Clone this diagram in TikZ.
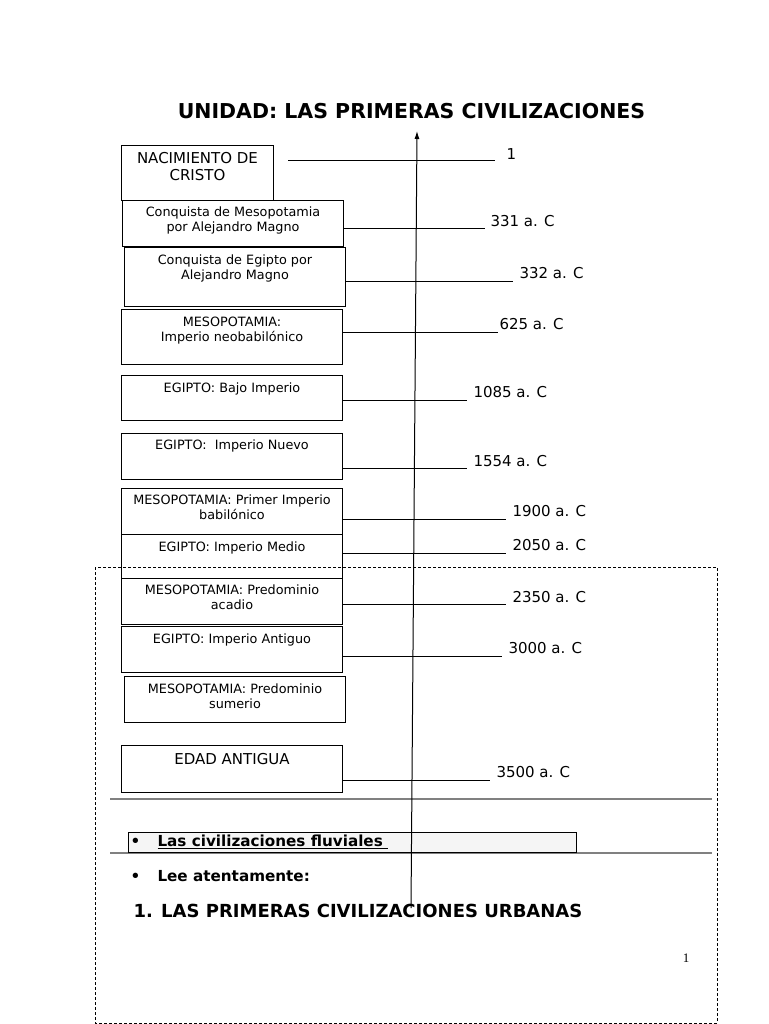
\documentclass[tikz,border=0pt]{standalone}
\usepackage{fontspec}
\setmainfont{DejaVu Sans}
\newfontfamily\pagefont{Liberation Serif}
\usepackage{tikz}
\usetikzlibrary{positioning,calc,arrows.meta}
\tikzset{>=stealth}
\tikzset{
  evbox/.style={draw,anchor=north west,inner sep=0pt},
  bigtxt/.style={anchor=north,inner sep=0pt,align=center,font=\fontsize{15}{17}\selectfont},
  smalltxt/.style={anchor=north,inner sep=0pt,align=center,font=\fontsize{12.8}{15}\selectfont},
  fecha/.style={anchor=base west,inner sep=0pt,font=\fontsize{15}{17}\selectfont},
  sepline/.style={draw=gray,line width=1.8pt},
  boldtxt/.style={anchor=base west,inner sep=0pt,font=\fontsize{15.2}{17}\selectfont\bfseries}
}

\begin{document}
\begin{tikzpicture}[x=1pt,y=-1pt,line width=1pt]
\useasboundingbox (0,0) rectangle (768,1024);
\fill[white] (0,0) rectangle (768,1024);
\node[anchor=base,inner sep=0pt,font=\fontsize{20.5}{24}\selectfont\bfseries] (titulo) at (411.5,118.5) {UNIDAD: LAS PRIMERAS CIVILIZACIONES};
% cajas
\node[evbox,minimum width=152pt,minimum height=55pt] (nac) at (121,145) {};
\node[bigtxt,below=6.5pt] at (nac.north) {NACIMIENTO DE\\CRISTO};
\node[evbox,minimum width=221pt,minimum height=46pt] (cmes) at (122,200) {};
\node[smalltxt,below=6.4pt] at (cmes.north) {Conquista de Mesopotamia\\por Alejandro Magno};
\node[evbox,minimum width=221pt,minimum height=59pt] (ceg) at (124,247) {};
\node[smalltxt,below=7.4pt] at (ceg.north) {Conquista de Egipto por\\Alejandro Magno};
\node[evbox,minimum width=221pt,minimum height=55pt] (neo) at (121,309) {};
\node[smalltxt,below=7.4pt] at (neo.north) {MESOPOTAMIA:\\Imperio neobabilónico};
\node[evbox,minimum width=221pt,minimum height=45pt] (bajo) at (121,375) {};
\node[smalltxt,below=7.4pt] at (bajo.north) {EGIPTO: Bajo Imperio};
\node[evbox,minimum width=221pt,minimum height=46pt] (nuevo) at (121,433) {};
\node[smalltxt,below=6.4pt] at (nuevo.north) {EGIPTO:\ \ Imperio Nuevo};
\node[evbox,minimum width=221pt,minimum height=46pt] (babi) at (121,488) {};
\node[smalltxt,below=6.4pt] at (babi.north) {MESOPOTAMIA: Primer Imperio\\babilónico};
\node[evbox,minimum width=221pt,minimum height=44pt] (medio) at (121,534) {};
\node[smalltxt,below=7.4pt] at (medio.north) {EGIPTO: Imperio Medio};
\node[evbox,minimum width=221pt,minimum height=46pt] (acad) at (121,578) {};
\node[smalltxt,below=6.4pt] at (acad.north) {MESOPOTAMIA: Predominio\\acadio};
\node[evbox,minimum width=221pt,minimum height=46pt] (antig) at (121,626) {};
\node[smalltxt,below=7.4pt] at (antig.north) {EGIPTO: Imperio Antiguo};
\node[evbox,minimum width=221pt,minimum height=46pt] (sum) at (124,676) {};
\node[smalltxt,below=7.4pt] at (sum.north) {MESOPOTAMIA: Predominio\\sumerio};
\node[evbox,minimum width=221pt,minimum height=47pt] (edad) at (121,745) {};
\node[bigtxt,below=7.5pt] at (edad.north) {EDAD ANTIGUA};
% fechas
\coordinate (e1) at (495,161);
\draw ([xshift=14pt]nac.east |- e1) -- (e1) node[fecha,xshift=11pt,yshift=1.5pt] (f1) {1};
\coordinate (e331) at (485,229);
\draw (cmes.east |- e331) -- (e331) node[fecha,xshift=5pt,yshift=2.5pt] (f331) {331 a. C};
\coordinate (e332) at (513,281);
\draw (ceg.east |- e332) -- (e332) node[fecha,xshift=6pt,yshift=2.5pt] (f332) {332 a. C};
\coordinate (e625) at (498,332);
\draw (neo.east |- e625) -- (e625) node[fecha,xshift=1pt,yshift=2.5pt] (f625) {625 a. C};
\coordinate (e1085) at (467,400);
\draw (bajo.east |- e1085) -- (e1085) node[fecha,xshift=6pt,yshift=2.5pt] (f1085) {1085 a. C};
\coordinate (e1554) at (467,468);
\draw (nuevo.east |- e1554) -- (e1554) node[fecha,xshift=6pt,yshift=1.5pt] (f1554) {1554 a. C};
\coordinate (e1900) at (506,519);
\draw (babi.east |- e1900) -- (e1900) node[fecha,xshift=6pt,yshift=2.5pt] (f1900) {1900 a. C};
\coordinate (e2050) at (506,553);
\draw (medio.east |- e2050) -- (e2050) node[fecha,xshift=6pt,yshift=2.5pt] (f2050) {2050 a. C};
\coordinate (e2350) at (506,604);
\draw (acad.east |- e2350) -- (e2350) node[fecha,xshift=6pt,yshift=1.5pt] (f2350) {2350 a. C};
\coordinate (e3000) at (502,656);
\draw (antig.east |- e3000) -- (e3000) node[fecha,xshift=6pt,yshift=2.5pt] (f3000) {3000 a. C};
\coordinate (e3500) at (490,780);
\draw (edad.east |- e3500) -- (e3500) node[fecha,xshift=6pt,yshift=2.5pt] (f3500) {3500 a. C};
% marco inferior
\draw[dash pattern=on 3pt off 2pt] (95,567) rectangle (717,1023);
\draw[sepline] (110,799) -- (712,799);
\draw[sepline] (110,853) -- (712,853);
\node[evbox,fill=gray!8,minimum width=448pt,minimum height=20pt] (fluv) at (128,832) {};
\node[boldtxt] (bul1) at (130,846.5) {•};
\node[boldtxt] (fluvtxt) at (157,846.5) {\underline{Las civilizaciones fluviales\ }};
\node[boldtxt] (bul2) at (130,881.5) {•};
\node[boldtxt] (lee) at (157,881.5) {Lee atentamente:};
\node[anchor=base west,inner sep=0pt,font=\fontsize{18}{21}\selectfont\bfseries] (urb) at (133,917.5) {1. LAS PRIMERAS CIVILIZACIONES URBANAS};
\node[inner sep=0pt,font=\fontsize{13}{15}\pagefont] (pag) at (686,958) {1};
% eje
\coordinate (axbot) at (411,908);
\coordinate (axtop) at (417,131);
\draw[-{Latex[length=8pt,width=5pt]}] (axbot) -- (axtop);
\end{tikzpicture}
\end{document}
